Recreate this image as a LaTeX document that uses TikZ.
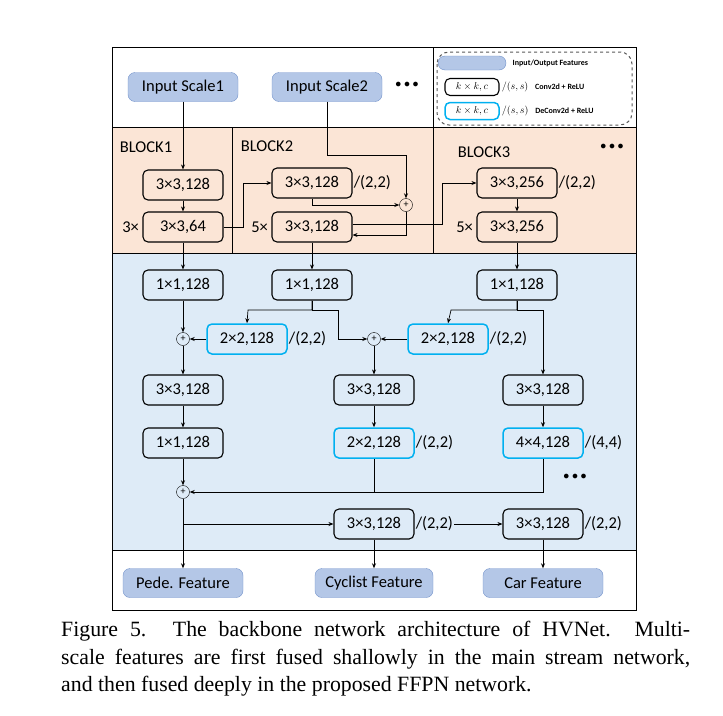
\documentclass[tikz,border=0pt]{standalone}
\usepackage{fontspec}
\setmainfont{Carlito}
\newfontfamily\capfont{Liberation Serif}
\usetikzlibrary{arrows.meta,positioning}
\definecolor{orangebg}{RGB}{251,229,214}
\definecolor{bluebg}{RGB}{222,235,247}
\definecolor{pillfill}{RGB}{180,199,231}
\definecolor{pillline}{RGB}{114,146,202}
\definecolor{deconvline}{RGB}{0,176,240}
\begin{document}
\begin{tikzpicture}[x=1pt, y=-1pt, >={Stealth[length=5pt,width=4pt]}, font=\fontsize{16.5}{18}\selectfont,
    conv/.style={draw, rounded corners=5pt, line width=1.1pt, minimum width=80pt, minimum height=30pt, inner sep=0pt},
    deconv/.style={conv, draw=deconvline, line width=1.5pt},
    feat/.style={draw=pillline, fill=pillfill, rounded corners=7pt, minimum width=118pt, minimum height=29pt, inner sep=0pt},
    sum/.style={draw, circle, minimum size=13pt, inner sep=0pt, font=\fontsize{10}{10}\selectfont},
    flow/.style={->, line width=0.7pt},
    wire/.style={line width=0.7pt},
    dots/.style={font=\fontsize{13}{13}\selectfont}]
    \useasboundingbox (0,0) rectangle (723,715);

    % Regions
    \fill[orangebg] (112,127) rectangle (636,253);
    \fill[bluebg] (112,253) rectangle (636,550);
    \draw[line width=0.9pt] (112,47) rectangle (636,610);
    \draw[line width=0.9pt] (112,127) -- (636,127);
    \draw[line width=0.9pt] (112,253) -- (636,253);
    \draw[line width=0.9pt] (112,550) -- (636,550);
    \draw[line width=0.9pt] (232,127) -- (232,253);
    \draw[line width=0.9pt] (433,47) -- (433,253);

    % Legend
    \draw[dashed, gray!70!black, line width=1pt, rounded corners=12pt] (437,52) rectangle (632,125);
    \node (lgfeat) [feat, minimum width=68pt, minimum height=14pt] at (472,63) {};
    \node[right=3pt of lgfeat, font=\fontsize{8}{9}\selectfont\bfseries] {Input/Output Features};
    \node (lgconv) [conv, minimum width=54pt, minimum height=17pt, font=\fontsize{10}{11}\selectfont] at (472,87) {$k\times k,c$};
    \node (lgconvs) [right=1pt of lgconv, inner sep=1pt, font=\fontsize{10}{11}\selectfont] {$/(s,s)$};
    \node[right=2pt of lgconvs, font=\fontsize{8}{9}\selectfont\bfseries] {Conv2d + ReLU};
    \node (lgdec) [deconv, minimum width=54pt, minimum height=17pt, font=\fontsize{10}{11}\selectfont] at (472,111) {$k\times k,c$};
    \node (lgdecs) [right=1pt of lgdec, inner sep=1pt, font=\fontsize{10}{11}\selectfont] {$/(s,s)$};
    \node[right=2pt of lgdecs, font=\fontsize{8}{9}\selectfont\bfseries] {DeConv2d + ReLU};

    % Inputs
    \node (in1) [feat, minimum width=110pt] at (183,87) {Input Scale1};
    \node (in2) [feat, minimum width=110pt] at (327,87) {Input Scale2};
    \node[dots] at (407,85) {$\bullet\bullet\bullet$};

    % Blocks
    \node at (146,147) {BLOCK1};
    \node at (267,146) {BLOCK2};
    \node at (484,152) {BLOCK3};
    \node[dots] at (612,147) {$\bullet\bullet\bullet$};
    \node (b1a) [conv] at (183,185) {3×3,128};
    \node (b1b) [conv] at (183,227) {3×3,64};
    \node[left=0pt of b1b] {3×};
    \node (b2a) [conv] at (312,183) {3×3,128};
    \node[right=0pt of b2a, inner sep=1pt] {/(2,2)};
    \node (b2b) [conv] at (312,227) {3×3,128};
    \node[left=0pt of b2b] {5×};
    \node (pb2) [sum] at (406,205) {+};
    \node (b3a) [conv] at (517,183) {3×3,256};
    \node[right=0pt of b3a, inner sep=1pt] {/(2,2)};
    \node (b3b) [conv] at (517,227) {3×3,256};
    \node[left=0pt of b3b] {5×};

    \draw[flow] (in1) -- (b1a);
    \draw[flow] (b1a) -- (b1b);
    \draw[flow] (b1b.east) -- (243,227) |- (b2a.west);
    \draw[flow] (in2) |- (406,155) -- (pb2);
    \draw[flow] (b2a.south) |- (pb2.west);
    \draw[flow] (pb2.south) |- ([yshift=-8pt]b2b.east);
    \draw[flow] ([yshift=3pt]b2b.east) -| (442,183) -- (b3a.west);
    \draw[flow] (b3a) -- (b3b);

    % Fusion network
    \node (c1) [conv] at (183,285) {1×1,128};
    \node (c2) [conv] at (312,285) {1×1,128};
    \node (c3) [conv] at (517,285) {1×1,128};
    \node (p1) [sum] at (183,339) {+};
    \node (d1) [deconv] at (247,339) {2×2,128};
    \node[right=0pt of d1, inner sep=1pt] {/(2,2)};
    \node (p2) [sum] at (374,339) {+};
    \node (d2) [deconv] at (448,339) {2×2,128};
    \node[right=0pt of d2, inner sep=1pt] {/(2,2)};
    \node (e1) [conv] at (183,390) {3×3,128};
    \node (e2) [conv] at (374,390) {3×3,128};
    \node (e3) [conv] at (543,390) {3×3,128};
    \node (f1) [conv] at (183,443) {1×1,128};
    \node (f2) [deconv] at (374,443) {2×2,128};
    \node[right=0pt of f2, inner sep=1pt] {/(2,2)};
    \node (f3) [deconv] at (543,443) {4×4,128};
    \node[right=0pt of f3, inner sep=1pt] {/(4,4)};
    \node[dots] at (575,477) {$\bullet\bullet\bullet$};
    \node (p3) [sum] at (183,492) {+};
    \node (g2) [conv] at (374,524) {3×3,128};
    \node (g2s) [right=0pt of g2, inner sep=1pt] {/(2,2)};
    \node (g3) [conv] at (543,524) {3×3,128};
    \node[right=0pt of g3, inner sep=1pt] {/(2,2)};

    \draw[flow] (b1b) -- (c1);
    \draw[flow] (b2b) -- (c2);
    \draw[flow] (b3b) -- (c3);
    \draw[flow] (c1) -- (p1);
    \draw[flow] (d1) -- (p1);
    \draw[flow] (c2.south) |- (248,310) -- (d1.north);
    \draw[flow] (c2.south) |- (338,310) |- (p2.west);
    \draw[flow] (d2) -- (p2);
    \draw[flow] (c3.south) |- (451,310) -- (d2.north);
    \draw[flow] (c3.south) |- (543,310) -- (e3.north);
    \draw[flow] (p1) -- (e1);
    \draw[flow] (p2) -- (e2);
    \draw[flow] (e1) -- (f1);
    \draw[flow] (e2) -- (f2);
    \draw[flow] (e3) -- (f3);
    \draw[flow] (f1) -- (p3);
    \draw[wire] (f3.south) |- (374,492);
    \draw[flow] (f2.south) |- (p3.east);
    \draw[flow] (183,524) -- (g2.west);
    \draw[flow] (g2s.east) -- (g3.west);

    % Outputs
    \node (o1) [feat, minimum width=120pt] at (183,583) {Pede. Feature};
    \node (o2) [feat] at (374,583) {Cyclist Feature};
    \node (o3) [feat, minimum width=120pt] at (543,583) {Car Feature};
    \draw[flow] (p3) -- (o1);
    \draw[flow] (g2) -- (o2);
    \draw[flow] (g3) -- (o3);

    % Caption
    \node (caption) [anchor=north west, text width=629pt, inner sep=0pt, align=justify,
        font=\capfont\fontsize{21.8}{27.5}\selectfont] at (61,621)
        {Figure 5. The backbone network architecture of HVNet.\ \ Multi-\linebreak scale features are first fused shallowly in the main stream network,\linebreak and then fused deeply in the proposed FFPN network.};
\end{tikzpicture}
\end{document}
